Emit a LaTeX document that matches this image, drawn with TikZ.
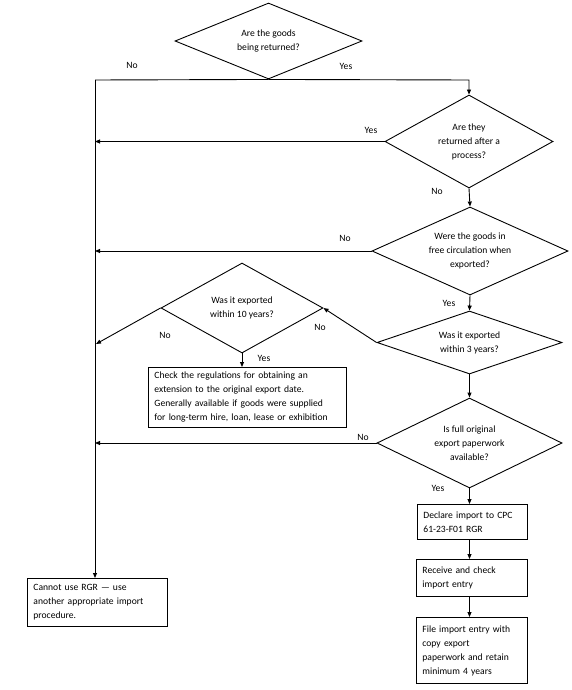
\documentclass[tikz,border=0pt]{standalone}
\usepackage{fontspec}
\setmainfont{Carlito}
\usetikzlibrary{shapes.geometric,arrows.meta}
\begin{document}
\begin{tikzpicture}[x=1pt,y=-1pt,
  every node/.style={font=\fontsize{9.6}{14}\selectfont},
  dia/.style={draw, diamond, inner sep=0pt, line width=0.9pt},
  qtext/.style={align=center, inner sep=0pt},
  box/.style={draw, rectangle, inner xsep=6pt, inner ysep=0pt, align=left, line width=0.9pt, anchor=north west},
  lbl/.style={inner sep=0pt},
  arr/.style={-{Triangle[length=5pt,width=4pt]}, line width=0.9pt},
  ln/.style={line width=0.9pt}]
\useasboundingbox (0,0) rectangle (572,690);

% diamonds
\node[dia, minimum width=187pt, minimum height=76pt] (d1) at (268.5,41) {};
\node[qtext] (t1) at (d1) {Are the goods\\being returned?};
\node[dia, minimum width=168pt, minimum height=93pt] (d2) at (469,141.5) {};
\node[qtext] (t2) at (d2) {Are they\\returned after a\\process?};
\node[dia, minimum width=196pt, minimum height=88pt] (d3) at (470,251) {};
\node[qtext] (t3) at (d3) {Were the goods in\\free circulation when\\exported?};
\node[dia, minimum width=185pt, minimum height=63pt] (d4) at (469.5,342.5) {};
\node[qtext] (t4) at (d4) {Was it exported\\within 3 years?};
\node[dia, minimum width=162pt, minimum height=90pt] (d5) at (242,308) {};
\node[qtext] (t5) at (d5) {Was it exported\\within 10 years?};
\node[dia, minimum width=185pt, minimum height=90pt] (d6) at (469.5,443) {};
\node[qtext] (t6) at (d6) {Is full original\\export paperwork\\available?};

% boxes
\node[box, text width=186pt, minimum height=60pt] (chk) at (148,367)
  {Check the regulations for obtaining an\\extension to the original export date.\\Generally available if goods were supplied\\for long-term hire, loan, lease or exhibition};
\node[box, text width=98pt, minimum height=35pt] (decl) at (417,504)
  {Declare import to CPC\\61-23-F01 RGR};
\node[box, text width=99pt, minimum height=37pt] (recv) at (416,559)
  {Receive and check\\import entry};
\node[box, text width=99pt, minimum height=66pt] (file) at (416,617)
  {File import entry with\\copy export\\paperwork and retain\\minimum 4 years};
\node[box, text width=128pt, minimum height=48pt] (cannot) at (27,578)
  {Cannot use RGR — use\\another appropriate import\\procedure.};

% connectors
\coordinate (tl) at (95,80);
\coordinate (tr) at (469,80);
\coordinate (c5) at (96,344);
\draw[ln] (d1.south) -- (tl);
\draw[arr] (d1.south) -- (tr) -- (d2.north);
\draw[arr] (tl) -- (tl |- cannot.north);
\draw[arr] (d2.west) -- (d2.west -| tl);
\draw[arr] (d2.south) -- (d3.north);
\draw[arr] (d3.west) -- (d3.west -| tl);
\draw[arr] (d3.south) -- (d4.north);
\draw[arr] (d4.west) -- (d5.east);
\draw[arr] (d5.west) -- (c5);
\draw[arr] (d5.south) -- (d5.south |- chk.north);
\draw[arr] (d4.south) -- (d6.north);
\draw[arr] (d6.west) -- (d6.west -| tl);
\draw[arr] (d6.south) -- (d6.south |- decl.north);
\draw[arr] (decl.south -| d6.south) -- (d6.south |- recv.north);
\draw[arr] (recv.south -| d6.south) -- (d6.south |- file.north);

% labels
\node[lbl] (l1) at (132,65) {No};
\node[lbl] (l2) at (346,66) {Yes};
\node[lbl] (l3) at (371,130) {Yes};
\node[lbl] (l4) at (437,191) {No};
\node[lbl] (l5) at (345,238) {No};
\node[lbl] (l6) at (449,303) {Yes};
\node[lbl] (l7) at (320,327) {No};
\node[lbl] (l8) at (165,335) {No};
\node[lbl] (l9) at (264,358) {Yes};
\node[lbl] (l10) at (363,437) {No};
\node[lbl] (l11) at (438,488) {Yes};
\end{tikzpicture}
\end{document}
